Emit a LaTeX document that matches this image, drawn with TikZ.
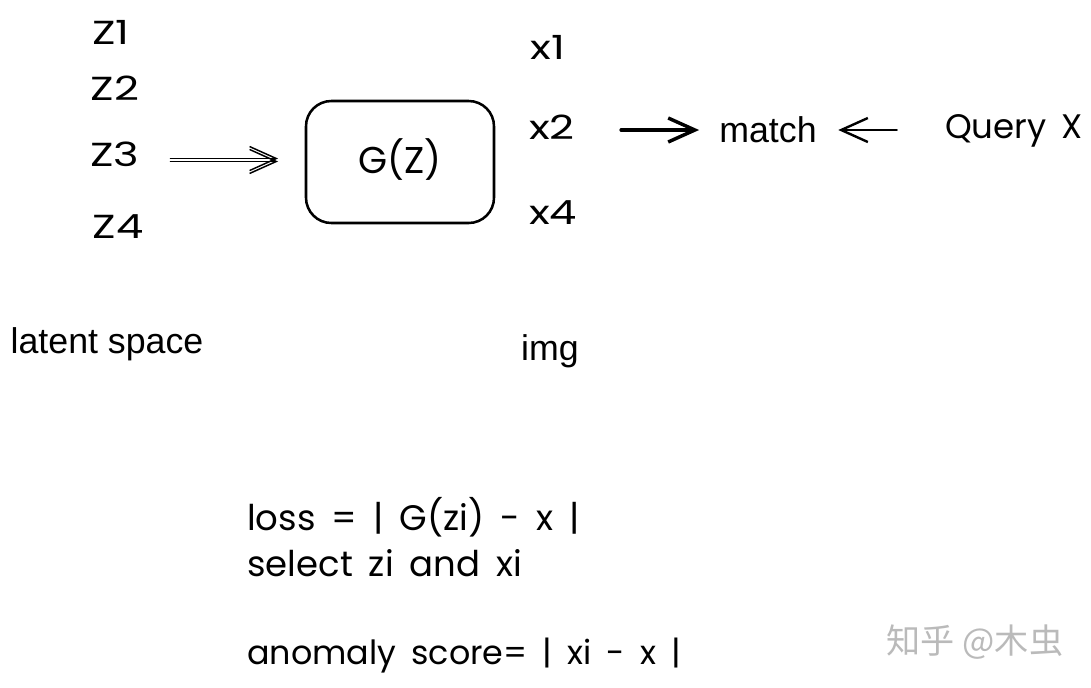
\documentclass[tikz,border=0pt]{standalone}
\usepackage{fontspec}
\setmainfont{Liberation Sans}
\newfontfamily\handfont{Poppins}
\newfontfamily\handwide[FakeStretch=1.3]{Poppins}
\newfontfamily\handspaced[WordSpace=1.7]{Poppins}
\newfontfamily\cjkfont{Noto Sans CJK SC}
\usetikzlibrary{arrows.meta}
\tikzset{
    hand/.style={font=\handwide\fontsize{25pt}{30pt}\selectfont, inner sep=0pt},
    handlabel/.style={font=\handfont\fontsize{#1}{30pt}\selectfont, inner sep=0pt},
    handtext/.style={font=\handspaced\fontsize{#1}{30pt}\selectfont, inner sep=0pt, anchor=west},
    plain/.style={font=\fontsize{26.8pt}{32pt}\selectfont, inner sep=0pt},
    sketch/.style={line width=1.8pt, -{Straight Barb[length=20pt,width=18pt]}, line cap=round},
    genbox/.style={draw, line width=1.9pt, rounded corners=19pt, minimum width=141pt, minimum height=91.5pt, inner sep=0pt}
}
\begin{document}
\begin{tikzpicture}[x=0.75pt,y=-0.75pt]
    \useasboundingbox (0,0) rectangle (1091,687);
    \node[hand] (z1) at (111,32) {Z1};
    \node[hand] (z2) at (115,88) {Z2};
    \node[hand] (z3) at (115,154) {Z3};
    \node[hand] (z4) at (118,227) {Z4};
    \node[genbox] (gen) at (400,162) {};
    \node[handlabel=28pt] (genlabel) at (400,160) {G(Z)};
    \node[hand] (x1) at (548,47) {x1};
    \node[hand] (x2) at (552,127) {x2};
    \node[hand] (x4) at (553,213) {x4};
    \node[plain] (match) at (768,130) {match};
    \node[handlabel=25.5pt] (query) at (1014,131) {Query X};
    \node[plain] (latent) at (107,344) {latent space};
    \node[plain] (img) at (550,351) {img};
    \node[handtext=26.6pt] (loss) at (247,517) {loss = | G(zi) - x |};
    \node[handtext=26.6pt] (select) at (247,563) {select zi and xi};
    \node[handtext=25pt] (score) at (247,656) {anomaly score= | xi - x |};
    \node[font=\cjkfont\fontsize{25.6pt}{28pt}\selectfont, text=black!27, inner sep=0pt] (mark) at (975,642) {知乎 @木虫};
    \draw[sketch, line width=1.1pt, shorten <=23pt, shorten >=20pt] ([yshift=0.4pt]z3.east |- gen.west) -- ([yshift=0.4pt]gen.west);
    \draw[sketch, line width=1.1pt, shorten <=23pt, shorten >=20pt] ([yshift=2.6pt]z3.east |- gen.west) -- ([yshift=2.6pt]gen.west);
    \draw[sketch, line width=2.6pt, shorten <=34.5pt, shorten >=15pt] (x2.east |- match.west) -- (match.west);
    \draw[sketch, shorten <=36pt, shorten >=16pt] (query.west |- match.east) -- (match.east);
\end{tikzpicture}
\end{document}
